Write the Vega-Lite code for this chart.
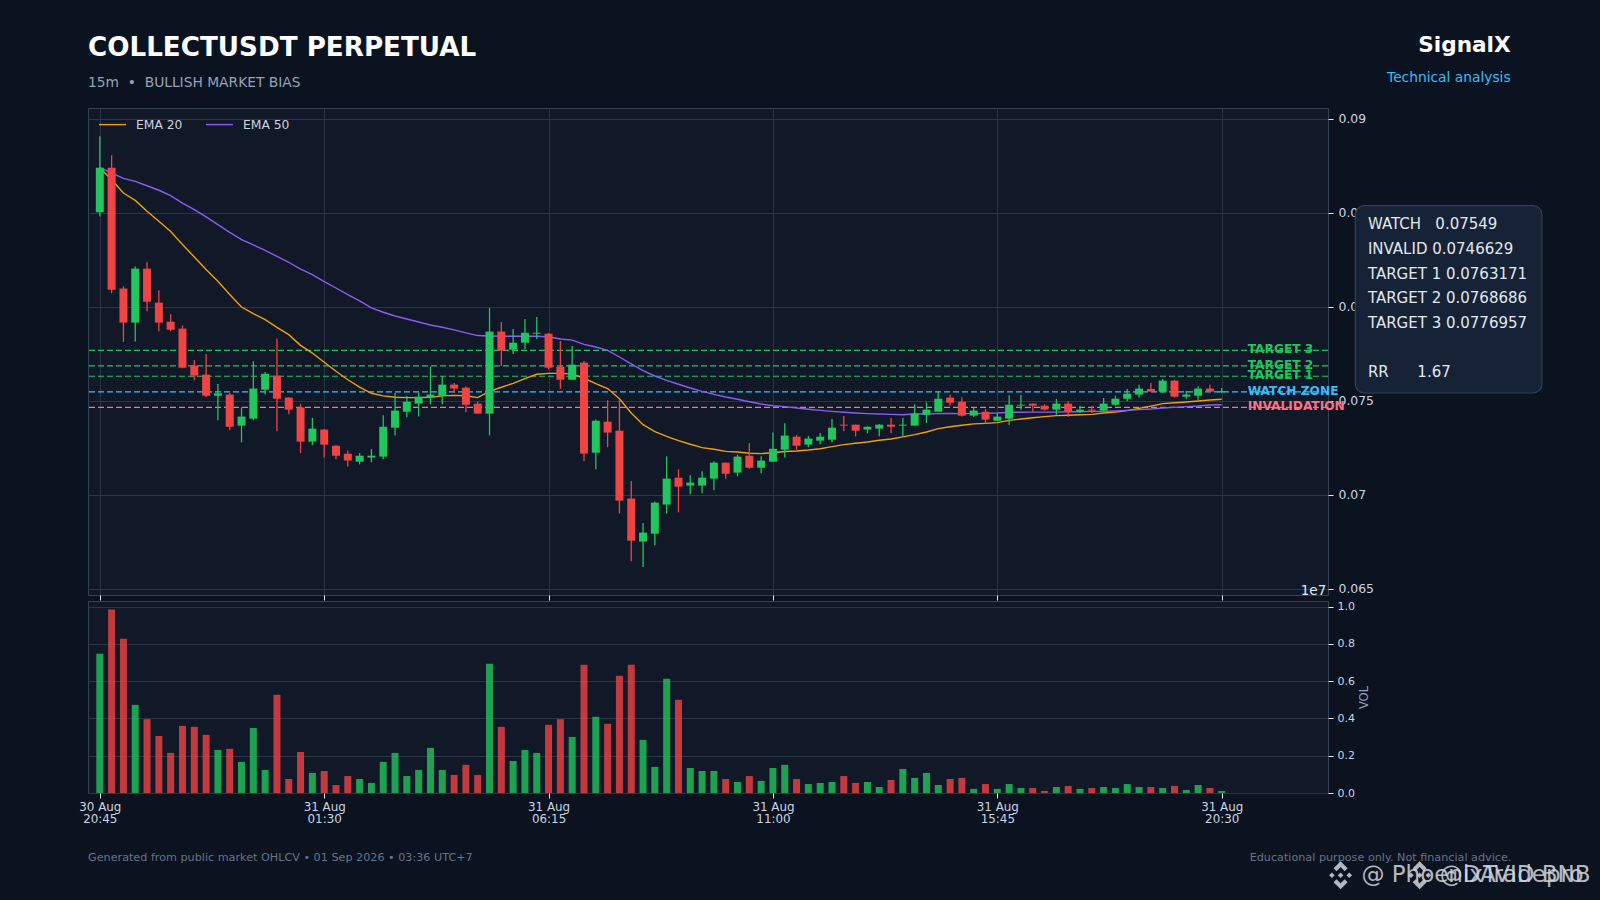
{
  "$schema": "https://vega.github.io/schema/vega-lite/v6.json",
  "background": "#0b1220",
  "padding": {"left": 78, "top": 34, "right": 12, "bottom": 14},
  "config": {
    "font": "DejaVu Sans",
    "view": {"fill": "#111827", "stroke": "#334155"},
    "axis": {"gridColor": "#2a3546", "gridOpacity": 1, "tickColor": "#e2e8f0", "labelColor": "#cbd5e1", "domain": false, "ticks": true}
  },
  "datasets": {
    "candles": [
      {"t":"2026-08-30T20:45:00Z","open":0.08504,"high":0.08908,"low":0.08482,"close":0.08741,"vol":0.747,"EMA 20":0.08741,"EMA 50":0.08741},
      {"t":"2026-08-30T21:00:00Z","open":0.08741,"high":0.08807,"low":0.08073,"close":0.08092,"vol":0.984,"EMA 20":0.08677,"EMA 50":0.08713},
      {"t":"2026-08-30T21:15:00Z","open":0.08098,"high":0.0811,"low":0.07814,"close":0.07917,"vol":0.828,"EMA 20":0.08606,"EMA 50":0.08684},
      {"t":"2026-08-30T21:30:00Z","open":0.07917,"high":0.08216,"low":0.07817,"close":0.08204,"vol":0.473,"EMA 20":0.08567,"EMA 50":0.08668},
      {"t":"2026-08-30T21:45:00Z","open":0.08204,"high":0.08238,"low":0.07977,"close":0.08028,"vol":0.396,"EMA 20":0.08509,"EMA 50":0.08645},
      {"t":"2026-08-30T22:00:00Z","open":0.08023,"high":0.08089,"low":0.07871,"close":0.07917,"vol":0.306,"EMA 20":0.08456,"EMA 50":0.08621},
      {"t":"2026-08-30T22:15:00Z","open":0.07922,"high":0.07961,"low":0.07871,"close":0.07879,"vol":0.215,"EMA 20":0.08402,"EMA 50":0.08592},
      {"t":"2026-08-30T22:30:00Z","open":0.07885,"high":0.07902,"low":0.07674,"close":0.07677,"vol":0.36,"EMA 20":0.08332,"EMA 50":0.08553},
      {"t":"2026-08-30T22:45:00Z","open":0.07688,"high":0.07718,"low":0.0761,"close":0.07635,"vol":0.355,"EMA 20":0.08266,"EMA 50":0.08518},
      {"t":"2026-08-30T23:00:00Z","open":0.0764,"high":0.0775,"low":0.07521,"close":0.07528,"vol":0.312,"EMA 20":0.08199,"EMA 50":0.08479},
      {"t":"2026-08-30T23:15:00Z","open":0.07528,"high":0.0759,"low":0.07397,"close":0.07541,"vol":0.231,"EMA 20":0.08137,"EMA 50":0.08438},
      {"t":"2026-08-30T23:30:00Z","open":0.07534,"high":0.07543,"low":0.07344,"close":0.07363,"vol":0.237,"EMA 20":0.08066,"EMA 50":0.08397},
      {"t":"2026-08-30T23:45:00Z","open":0.07369,"high":0.07466,"low":0.0728,"close":0.07417,"vol":0.167,"EMA 20":0.08,"EMA 50":0.08358},
      {"t":"2026-08-31T00:00:00Z","open":0.07406,"high":0.07711,"low":0.07397,"close":0.07566,"vol":0.349,"EMA 20":0.07965,"EMA 50":0.0833},
      {"t":"2026-08-31T00:15:00Z","open":0.0756,"high":0.07654,"low":0.07535,"close":0.07645,"vol":0.124,"EMA 20":0.07933,"EMA 50":0.08301},
      {"t":"2026-08-31T00:30:00Z","open":0.07635,"high":0.07833,"low":0.07339,"close":0.07512,"vol":0.527,"EMA 20":0.07892,"EMA 50":0.08269},
      {"t":"2026-08-31T00:45:00Z","open":0.07518,"high":0.0752,"low":0.07429,"close":0.07454,"vol":0.075,"EMA 20":0.07853,"EMA 50":0.08238},
      {"t":"2026-08-31T01:00:00Z","open":0.07466,"high":0.07484,"low":0.07223,"close":0.07284,"vol":0.22,"EMA 20":0.07796,"EMA 50":0.08202},
      {"t":"2026-08-31T01:15:00Z","open":0.07284,"high":0.0741,"low":0.07264,"close":0.07353,"vol":0.108,"EMA 20":0.07755,"EMA 50":0.08172},
      {"t":"2026-08-31T01:30:00Z","open":0.07348,"high":0.07351,"low":0.072,"close":0.07268,"vol":0.118,"EMA 20":0.07706,"EMA 50":0.08135},
      {"t":"2026-08-31T01:45:00Z","open":0.07262,"high":0.07264,"low":0.0719,"close":0.07209,"vol":0.043,"EMA 20":0.07658,"EMA 50":0.08101},
      {"t":"2026-08-31T02:00:00Z","open":0.0722,"high":0.07236,"low":0.07152,"close":0.07183,"vol":0.091,"EMA 20":0.07613,"EMA 50":0.08066},
      {"t":"2026-08-31T02:15:00Z","open":0.07177,"high":0.07223,"low":0.07163,"close":0.07209,"vol":0.075,"EMA 20":0.07574,"EMA 50":0.08032},
      {"t":"2026-08-31T02:30:00Z","open":0.07199,"high":0.07245,"low":0.07174,"close":0.07209,"vol":0.054,"EMA 20":0.07541,"EMA 50":0.07995},
      {"t":"2026-08-31T02:45:00Z","open":0.07204,"high":0.07424,"low":0.0719,"close":0.07363,"vol":0.167,"EMA 20":0.07527,"EMA 50":0.07972},
      {"t":"2026-08-31T03:00:00Z","open":0.07358,"high":0.07543,"low":0.07317,"close":0.07449,"vol":0.215,"EMA 20":0.0752,"EMA 50":0.07952},
      {"t":"2026-08-31T03:15:00Z","open":0.07443,"high":0.07527,"low":0.07413,"close":0.07496,"vol":0.091,"EMA 20":0.07518,"EMA 50":0.07936},
      {"t":"2026-08-31T03:30:00Z","open":0.07486,"high":0.07546,"low":0.07418,"close":0.07523,"vol":0.124,"EMA 20":0.07518,"EMA 50":0.0792},
      {"t":"2026-08-31T03:45:00Z","open":0.07518,"high":0.07683,"low":0.07482,"close":0.07534,"vol":0.242,"EMA 20":0.0752,"EMA 50":0.07904},
      {"t":"2026-08-31T04:00:00Z","open":0.07528,"high":0.07633,"low":0.07482,"close":0.07587,"vol":0.124,"EMA 20":0.07527,"EMA 50":0.07892},
      {"t":"2026-08-31T04:15:00Z","open":0.07587,"high":0.07596,"low":0.07543,"close":0.07566,"vol":0.097,"EMA 20":0.0753,"EMA 50":0.07878},
      {"t":"2026-08-31T04:30:00Z","open":0.07571,"high":0.07578,"low":0.0744,"close":0.0748,"vol":0.151,"EMA 20":0.07528,"EMA 50":0.07862},
      {"t":"2026-08-31T04:45:00Z","open":0.07486,"high":0.07498,"low":0.07433,"close":0.07433,"vol":0.097,"EMA 20":0.07518,"EMA 50":0.07848},
      {"t":"2026-08-31T05:00:00Z","open":0.07433,"high":0.07995,"low":0.07317,"close":0.07869,"vol":0.694,"EMA 20":0.07551,"EMA 50":0.07846},
      {"t":"2026-08-31T05:15:00Z","open":0.07869,"high":0.0792,"low":0.07688,"close":0.07768,"vol":0.355,"EMA 20":0.07573,"EMA 50":0.07844},
      {"t":"2026-08-31T05:30:00Z","open":0.07773,"high":0.07883,"low":0.0775,"close":0.0781,"vol":0.172,"EMA 20":0.07594,"EMA 50":0.07844},
      {"t":"2026-08-31T05:45:00Z","open":0.0781,"high":0.07936,"low":0.07777,"close":0.07863,"vol":0.231,"EMA 20":0.07619,"EMA 50":0.07844},
      {"t":"2026-08-31T06:00:00Z","open":0.07858,"high":0.07947,"low":0.0783,"close":0.07863,"vol":0.215,"EMA 20":0.07642,"EMA 50":0.07844},
      {"t":"2026-08-31T06:15:00Z","open":0.07858,"high":0.07862,"low":0.07668,"close":0.07677,"vol":0.366,"EMA 20":0.07647,"EMA 50":0.07842},
      {"t":"2026-08-31T06:30:00Z","open":0.07683,"high":0.07819,"low":0.07564,"close":0.07613,"vol":0.396,"EMA 20":0.07647,"EMA 50":0.0783},
      {"t":"2026-08-31T06:45:00Z","open":0.07613,"high":0.07793,"low":0.07613,"close":0.07693,"vol":0.301,"EMA 20":0.07644,"EMA 50":0.07824},
      {"t":"2026-08-31T07:00:00Z","open":0.07704,"high":0.07713,"low":0.07179,"close":0.0722,"vol":0.688,"EMA 20":0.07621,"EMA 50":0.07801},
      {"t":"2026-08-31T07:15:00Z","open":0.07225,"high":0.07402,"low":0.07137,"close":0.07395,"vol":0.409,"EMA 20":0.07592,"EMA 50":0.07787},
      {"t":"2026-08-31T07:30:00Z","open":0.0739,"high":0.07504,"low":0.07254,"close":0.07332,"vol":0.371,"EMA 20":0.07566,"EMA 50":0.07769},
      {"t":"2026-08-31T07:45:00Z","open":0.07342,"high":0.07504,"low":0.06902,"close":0.0697,"vol":0.629,"EMA 20":0.07512,"EMA 50":0.07734},
      {"t":"2026-08-31T08:00:00Z","open":0.06981,"high":0.07074,"low":0.06647,"close":0.06757,"vol":0.688,"EMA 20":0.07436,"EMA 50":0.07697},
      {"t":"2026-08-31T08:15:00Z","open":0.06752,"high":0.06851,"low":0.06617,"close":0.068,"vol":0.285,"EMA 20":0.07374,"EMA 50":0.07661},
      {"t":"2026-08-31T08:30:00Z","open":0.06794,"high":0.06965,"low":0.06732,"close":0.06959,"vol":0.14,"EMA 20":0.07337,"EMA 50":0.07633},
      {"t":"2026-08-31T08:45:00Z","open":0.06949,"high":0.07206,"low":0.06902,"close":0.07087,"vol":0.613,"EMA 20":0.07312,"EMA 50":0.0761},
      {"t":"2026-08-31T09:00:00Z","open":0.07092,"high":0.07137,"low":0.06908,"close":0.07044,"vol":0.5,"EMA 20":0.07289,"EMA 50":0.07589},
      {"t":"2026-08-31T09:15:00Z","open":0.0705,"high":0.07105,"low":0.07004,"close":0.07066,"vol":0.134,"EMA 20":0.0727,"EMA 50":0.07569},
      {"t":"2026-08-31T09:30:00Z","open":0.0705,"high":0.07126,"low":0.07009,"close":0.07092,"vol":0.118,"EMA 20":0.07252,"EMA 50":0.07551},
      {"t":"2026-08-31T09:45:00Z","open":0.07087,"high":0.07179,"low":0.07025,"close":0.07172,"vol":0.118,"EMA 20":0.07243,"EMA 50":0.07535},
      {"t":"2026-08-31T10:00:00Z","open":0.07172,"high":0.07172,"low":0.07087,"close":0.07113,"vol":0.075,"EMA 20":0.07232,"EMA 50":0.07521},
      {"t":"2026-08-31T10:15:00Z","open":0.07119,"high":0.07215,"low":0.07099,"close":0.07204,"vol":0.059,"EMA 20":0.07229,"EMA 50":0.07509},
      {"t":"2026-08-31T10:30:00Z","open":0.07209,"high":0.07277,"low":0.0714,"close":0.07145,"vol":0.091,"EMA 20":0.07222,"EMA 50":0.07496},
      {"t":"2026-08-31T10:45:00Z","open":0.07145,"high":0.07206,"low":0.07115,"close":0.07183,"vol":0.065,"EMA 20":0.0722,"EMA 50":0.07484},
      {"t":"2026-08-31T11:00:00Z","open":0.07177,"high":0.07333,"low":0.07177,"close":0.07246,"vol":0.134,"EMA 20":0.07225,"EMA 50":0.07475},
      {"t":"2026-08-31T11:15:00Z","open":0.07241,"high":0.07381,"low":0.072,"close":0.07316,"vol":0.151,"EMA 20":0.07231,"EMA 50":0.0747},
      {"t":"2026-08-31T11:30:00Z","open":0.0731,"high":0.07319,"low":0.07241,"close":0.07262,"vol":0.075,"EMA 20":0.07234,"EMA 50":0.07463},
      {"t":"2026-08-31T11:45:00Z","open":0.07268,"high":0.07314,"low":0.07254,"close":0.073,"vol":0.048,"EMA 20":0.07239,"EMA 50":0.07456},
      {"t":"2026-08-31T12:00:00Z","open":0.07289,"high":0.0733,"low":0.0727,"close":0.0731,"vol":0.054,"EMA 20":0.07246,"EMA 50":0.0745},
      {"t":"2026-08-31T12:15:00Z","open":0.07294,"high":0.07404,"low":0.0728,"close":0.07358,"vol":0.059,"EMA 20":0.07257,"EMA 50":0.07445},
      {"t":"2026-08-31T12:30:00Z","open":0.07374,"high":0.0742,"low":0.07339,"close":0.07369,"vol":0.091,"EMA 20":0.07268,"EMA 50":0.0744},
      {"t":"2026-08-31T12:45:00Z","open":0.07374,"high":0.07374,"low":0.07312,"close":0.07342,"vol":0.054,"EMA 20":0.07275,"EMA 50":0.07436},
      {"t":"2026-08-31T13:00:00Z","open":0.07348,"high":0.07365,"low":0.07328,"close":0.07363,"vol":0.059,"EMA 20":0.07282,"EMA 50":0.07433},
      {"t":"2026-08-31T13:15:00Z","open":0.07353,"high":0.07378,"low":0.07312,"close":0.07374,"vol":0.032,"EMA 20":0.07291,"EMA 50":0.07431},
      {"t":"2026-08-31T13:30:00Z","open":0.07374,"high":0.0741,"low":0.07328,"close":0.07363,"vol":0.07,"EMA 20":0.07298,"EMA 50":0.07429},
      {"t":"2026-08-31T13:45:00Z","open":0.07369,"high":0.0741,"low":0.07312,"close":0.07374,"vol":0.129,"EMA 20":0.07309,"EMA 50":0.07427},
      {"t":"2026-08-31T14:00:00Z","open":0.07369,"high":0.07482,"low":0.07369,"close":0.07433,"vol":0.081,"EMA 20":0.07321,"EMA 50":0.07431},
      {"t":"2026-08-31T14:15:00Z","open":0.07427,"high":0.07493,"low":0.07383,"close":0.07454,"vol":0.108,"EMA 20":0.07335,"EMA 50":0.07431},
      {"t":"2026-08-31T14:30:00Z","open":0.07443,"high":0.07551,"low":0.07443,"close":0.07512,"vol":0.043,"EMA 20":0.07353,"EMA 50":0.07433},
      {"t":"2026-08-31T14:45:00Z","open":0.07518,"high":0.07535,"low":0.07475,"close":0.07491,"vol":0.075,"EMA 20":0.07363,"EMA 50":0.07434},
      {"t":"2026-08-31T15:00:00Z","open":0.07496,"high":0.0752,"low":0.07417,"close":0.07422,"vol":0.081,"EMA 20":0.07371,"EMA 50":0.07433},
      {"t":"2026-08-31T15:15:00Z","open":0.07422,"high":0.07465,"low":0.07415,"close":0.07449,"vol":0.022,"EMA 20":0.07378,"EMA 50":0.07433},
      {"t":"2026-08-31T15:30:00Z","open":0.07443,"high":0.07457,"low":0.07379,"close":0.07401,"vol":0.048,"EMA 20":0.07381,"EMA 50":0.07434},
      {"t":"2026-08-31T15:45:00Z","open":0.07395,"high":0.07433,"low":0.07394,"close":0.07417,"vol":0.022,"EMA 20":0.07385,"EMA 50":0.07436},
      {"t":"2026-08-31T16:00:00Z","open":0.07406,"high":0.0753,"low":0.07372,"close":0.0748,"vol":0.048,"EMA 20":0.07397,"EMA 50":0.0744},
      {"t":"2026-08-31T16:15:00Z","open":0.07475,"high":0.07532,"low":0.07454,"close":0.0748,"vol":0.027,"EMA 20":0.07404,"EMA 50":0.0744},
      {"t":"2026-08-31T16:30:00Z","open":0.07486,"high":0.07486,"low":0.07443,"close":0.07475,"vol":0.027,"EMA 20":0.07411,"EMA 50":0.07441},
      {"t":"2026-08-31T16:45:00Z","open":0.07475,"high":0.07482,"low":0.07449,"close":0.07454,"vol":0.011,"EMA 20":0.07417,"EMA 50":0.07441},
      {"t":"2026-08-31T17:00:00Z","open":0.07454,"high":0.07511,"low":0.07427,"close":0.07486,"vol":0.032,"EMA 20":0.07422,"EMA 50":0.07441},
      {"t":"2026-08-31T17:15:00Z","open":0.07486,"high":0.07498,"low":0.07415,"close":0.07443,"vol":0.038,"EMA 20":0.07424,"EMA 50":0.07443},
      {"t":"2026-08-31T17:30:00Z","open":0.07443,"high":0.07475,"low":0.07436,"close":0.07454,"vol":0.022,"EMA 20":0.07427,"EMA 50":0.07443},
      {"t":"2026-08-31T17:45:00Z","open":0.07454,"high":0.07473,"low":0.07436,"close":0.07449,"vol":0.027,"EMA 20":0.07429,"EMA 50":0.07445},
      {"t":"2026-08-31T18:00:00Z","open":0.07449,"high":0.07516,"low":0.07445,"close":0.07486,"vol":0.032,"EMA 20":0.07436,"EMA 50":0.07445},
      {"t":"2026-08-31T18:15:00Z","open":0.0748,"high":0.07528,"low":0.07475,"close":0.07512,"vol":0.027,"EMA 20":0.07441,"EMA 50":0.07447},
      {"t":"2026-08-31T18:30:00Z","open":0.07512,"high":0.07564,"low":0.07498,"close":0.07539,"vol":0.048,"EMA 20":0.07449,"EMA 50":0.0745},
      {"t":"2026-08-31T18:45:00Z","open":0.07534,"high":0.07587,"low":0.07518,"close":0.07566,"vol":0.032,"EMA 20":0.07461,"EMA 50":0.07454},
      {"t":"2026-08-31T19:00:00Z","open":0.07564,"high":0.07596,"low":0.0755,"close":0.0755,"vol":0.032,"EMA 20":0.07473,"EMA 50":0.07457},
      {"t":"2026-08-31T19:15:00Z","open":0.0755,"high":0.07617,"low":0.07543,"close":0.07608,"vol":0.027,"EMA 20":0.07486,"EMA 50":0.07463},
      {"t":"2026-08-31T19:30:00Z","open":0.07608,"high":0.07613,"low":0.07518,"close":0.07523,"vol":0.038,"EMA 20":0.07491,"EMA 50":0.07466},
      {"t":"2026-08-31T19:45:00Z","open":0.07523,"high":0.07555,"low":0.07512,"close":0.07534,"vol":0.016,"EMA 20":0.07495,"EMA 50":0.0747},
      {"t":"2026-08-31T20:00:00Z","open":0.07528,"high":0.07578,"low":0.07507,"close":0.07566,"vol":0.043,"EMA 20":0.075,"EMA 50":0.07473},
      {"t":"2026-08-31T20:15:00Z","open":0.07566,"high":0.07587,"low":0.07546,"close":0.0755,"vol":0.027,"EMA 20":0.07505,"EMA 50":0.07479},
      {"t":"2026-08-31T20:30:00Z","open":0.07546,"high":0.07569,"low":0.07543,"close":0.07553,"vol":0.011,"EMA 20":0.07509,"EMA 50":0.0748}
    ],
    "levels": [
      {"name":"TARGET 3","kind":"target","price":0.0776957,"t":"2026-08-31T21:03:00Z"},
      {"name":"TARGET 2","kind":"target","price":0.0768686,"t":"2026-08-31T21:03:00Z"},
      {"name":"TARGET 1","kind":"target","price":0.0763171,"t":"2026-08-31T21:03:00Z"},
      {"name":"WATCH ZONE","kind":"watch","price":0.07549,"t":"2026-08-31T21:03:00Z"},
      {"name":"INVALIDATION","kind":"invalid","price":0.0746629,"t":"2026-08-31T21:03:00Z"}
    ],
    "infobox": [
      {"t":"2026-08-31T23:19:42Z","t2":"2026-09-01T03:16:48Z","top":0.085388,"bottom":0.075426}
    ],
    "infolines": [
      {"line":"WATCH\u00a0\u00a0\u00a00.07549","t":"2026-08-31T23:35:42Z","price":0.084431},
      {"line":"INVALID 0.0746629","t":"2026-08-31T23:35:42Z","price":0.083085},
      {"line":"TARGET 1 0.0763171","t":"2026-08-31T23:35:42Z","price":0.081771},
      {"line":"TARGET 2 0.0768686","t":"2026-08-31T23:35:42Z","price":0.080479},
      {"line":"TARGET 3 0.0776957","t":"2026-08-31T23:35:42Z","price":0.079149},
      {"line":"RR\u00a0\u00a0\u00a0\u00a0\u00a0\u00a01.67","t":"2026-08-31T23:35:42Z","price":0.076543}
    ]
  },
  "spacing": -3,
  "vconcat": [
    {
      "width": 1240,
      "height": 487,
      "title": {
        "text": "COLLECTUSDT PERPETUAL",
        "subtitle": "15m\u00a0\u00a0•\u00a0\u00a0BULLISH MARKET BIAS",
        "anchor": "start",
        "frame": "group",
        "font": "DejaVu Sans",
        "fontSize": 26.2,
        "fontWeight": "bold",
        "color": "#ffffff",
        "subtitleFont": "DejaVu Sans",
        "subtitleFontSize": 13.8,
        "subtitleColor": "#94a3b8",
        "subtitlePadding": 14,
        "offset": -54
      },
      "encoding": {
        "x": {
          "field": "t",
          "type": "temporal",
          "title": null,
          "scale": {"type": "utc", "domain": ["2026-08-30T20:30:00Z", "2026-08-31T22:45:00Z"], "nice": false, "padding": 0},
          "axis": {
            "values": ["2026-08-30T20:45:00Z", "2026-08-31T01:30:00Z", "2026-08-31T06:15:00Z", "2026-08-31T11:00:00Z", "2026-08-31T15:45:00Z", "2026-08-31T20:30:00Z"],
            "tickCount": 6,
            "labels": false,
            "grid": true,
            "tickSize": 5
          }
        }
      },
      "layer": [
        {
          "data": {"name": "levels"},
          "mark": {"type": "rule", "strokeDash": [6, 3], "strokeWidth": 1.2},
          "encoding": {
            "x": null,
            "y": {
              "field": "price",
              "type": "quantitative",
              "title": null,
              "scale": {"domain": [0.06468, 0.090585], "nice": false, "zero": false},
              "axis": {
                "orient": "right",
                "values": [0.065, 0.07, 0.075, 0.08, 0.085, 0.09],
                "tickCount": 6,
                "format": ".3~f",
                "grid": true,
                "tickSize": 5,
                "labelFontSize": 12.4,
                "labelPadding": 5
              }
            },
            "color": {
              "condition": [
                {"test": "datum.kind == 'target'", "value": "#22c55e"},
                {"test": "datum.kind == 'watch'", "value": "#38bdf8"}
              ],
              "value": "#fb7185"
            }
          }
        },
        {
          "data": {"name": "candles"},
          "transform": [{"fold": ["EMA 20", "EMA 50"], "as": ["ema", "value"]}],
          "mark": {"type": "line", "strokeWidth": 1.4},
          "encoding": {
            "y": {"field": "value", "type": "quantitative", "title": null, "scale": {"domain": [0.06468, 0.090585], "nice": false, "zero": false}},
            "color": {
              "field": "ema",
              "type": "nominal",
              "scale": {"domain": ["EMA 20", "EMA 50"], "range": ["#f59e0b", "#8b5cf6"]},
              "legend": {
                "title": null,
                "orient": "none",
                "legendX": 10,
                "legendY": 2,
                "direction": "horizontal",
                "symbolType": "stroke",
                "symbolSize": 729,
                "symbolStrokeWidth": 1.4,
                "labelColor": "#cbd5e1",
                "labelFontSize": 12.3,
                "labelOffset": 9,
                "columnPadding": 20
              }
            }
          }
        },
        {
          "data": {"name": "candles"},
          "mark": {"type": "rule", "strokeWidth": 1.3},
          "encoding": {
            "y": {"field": "low", "type": "quantitative", "title": null, "scale": {"domain": [0.06468, 0.090585], "nice": false, "zero": false}},
            "y2": {"field": "high"},
            "color": {"condition": {"test": "datum.close >= datum.open", "value": "#22c55e"}, "value": "#ef4444"}
          }
        },
        {
          "data": {"name": "candles"},
          "mark": {"type": "bar", "width": 8},
          "encoding": {
            "y": {"field": "open", "type": "quantitative", "title": null, "scale": {"domain": [0.06468, 0.090585], "nice": false, "zero": false}},
            "y2": {"field": "close"},
            "color": {"condition": {"test": "datum.close >= datum.open", "value": "#22c55e"}, "value": "#ef4444"}
          }
        },
        {
          "data": {"name": "levels"},
          "mark": {"type": "text", "align": "left", "baseline": "middle", "dy": -1, "fontSize": 12.2, "fontWeight": "bold"},
          "encoding": {
            "y": {"field": "price", "type": "quantitative", "title": null, "scale": {"domain": [0.06468, 0.090585], "nice": false, "zero": false}},
            "text": {"field": "name"},
            "color": {
              "condition": [
                {"test": "datum.kind == 'target'", "value": "#22c55e"},
                {"test": "datum.kind == 'watch'", "value": "#38bdf8"}
              ],
              "value": "#fb7185"
            }
          }
        },
        {
          "data": {"name": "infobox"},
          "mark": {"type": "rect", "fill": "#162235", "stroke": "#334155", "strokeWidth": 1.2, "cornerRadius": 9},
          "encoding": {
            "x2": {"field": "t2"},
            "y": {"field": "top", "type": "quantitative", "title": null, "scale": {"domain": [0.06468, 0.090585], "nice": false, "zero": false}},
            "y2": {"field": "bottom"}
          }
        },
        {
          "data": {"name": "infolines"},
          "mark": {"type": "text", "align": "left", "baseline": "middle", "fontSize": 15, "color": "#e2e8f0"},
          "encoding": {
            "y": {"field": "price", "type": "quantitative", "title": null, "scale": {"domain": [0.06468, 0.090585], "nice": false, "zero": false}},
            "text": {"field": "line"}
          }
        },
        {
          "data": {"values": [{"label": "SignalX", "t": "2026-09-01T02:37:00Z", "price": 0.093862}]},
          "mark": {"type": "text", "align": "right", "baseline": "middle", "fontSize": 21.6, "fontWeight": "bold", "color": "#ffffff"},
          "encoding": {
            "y": {"field": "price", "type": "quantitative", "title": null, "scale": {"domain": [0.06468, 0.090585], "nice": false, "zero": false}},
            "text": {"field": "label"}
          }
        },
        {
          "data": {"values": [{"label": "Technical analysis", "t": "2026-09-01T02:37:00Z", "price": 0.092197}]},
          "mark": {"type": "text", "align": "right", "baseline": "middle", "fontSize": 13.8, "color": "#38bdf8"},
          "encoding": {
            "y": {"field": "price", "type": "quantitative", "title": null, "scale": {"domain": [0.06468, 0.090585], "nice": false, "zero": false}},
            "text": {"field": "label"}
          }
        },
        {
          "data": {"values": [{"label": "1e7", "t": "2026-08-31T22:42:48Z", "price": 0.06491}]},
          "mark": {"type": "text", "align": "right", "baseline": "middle", "fontSize": 13.5, "color": "#e2e8f0"},
          "encoding": {
            "y": {"field": "price", "type": "quantitative", "title": null, "scale": {"domain": [0.06468, 0.090585], "nice": false, "zero": false}},
            "text": {"field": "label"}
          }
        }
      ]
    },
    {
      "width": 1240,
      "height": 192,
      "encoding": {
        "x": {
          "field": "t",
          "type": "temporal",
          "title": null,
          "scale": {"type": "utc", "domain": ["2026-08-30T20:30:00Z", "2026-08-31T22:45:00Z"], "nice": false, "padding": 0},
          "axis": {
            "values": ["2026-08-30T20:45:00Z", "2026-08-31T01:30:00Z", "2026-08-31T06:15:00Z", "2026-08-31T11:00:00Z", "2026-08-31T15:45:00Z", "2026-08-31T20:30:00Z"],
            "tickCount": 6,
            "labelExpr": "[utcFormat(datum.value, '%d %b'), utcFormat(datum.value, '%H:%M')]",
            "labelFontSize": 11.9,
            "labelLineHeight": 12.2,
            "labelFlush": false,
            "grid": false,
            "tickSize": 5,
            "labelPadding": 3
          }
        }
      },
      "layer": [
        {
          "data": {"name": "candles"},
          "mark": {"type": "bar", "width": 7, "opacity": 0.8},
          "encoding": {
            "y": {
              "field": "vol",
              "type": "quantitative",
              "scale": {"domain": [0, 1.03], "nice": false},
              "axis": {
                "orient": "right",
                "title": "VOL",
                "titleAngle": 270,
                "titleColor": "#94a3b8",
                "titleFontSize": 11.5,
                "titleFontWeight": "normal",
                "titlePadding": 15,
                "values": [0, 0.2, 0.4, 0.6, 0.8, 1],
                "tickCount": 6,
                "format": ".1f",
                "grid": true,
                "tickSize": 5,
                "labelFontSize": 11,
                "labelPadding": 4
              }
            },
            "color": {"condition": {"test": "datum.close >= datum.open", "value": "#22c55e"}, "value": "#ef4444"}
          }
        },
        {
          "data": {"values": [
            {"label": "Generated from public market OHLCV • 01 Sep 2026 • 03:36 UTC+7", "t": "2026-08-30T20:30:00Z", "vol": -0.3468}
          ]},
          "mark": {"type": "text", "align": "left", "baseline": "middle", "fontSize": 11.2, "color": "#64748b"},
          "encoding": {
            "y": {"field": "vol", "type": "quantitative", "scale": {"domain": [0, 1.03], "nice": false}},
            "text": {"field": "label"}
          }
        },
        {
          "data": {"values": [
            {"label": "Educational purpose only. Not financial advice.", "t": "2026-09-01T02:37:54Z", "vol": -0.3468}
          ]},
          "mark": {"type": "text", "align": "right", "baseline": "middle", "fontSize": 11.2, "color": "#64748b"},
          "encoding": {
            "y": {"field": "vol", "type": "quantitative", "scale": {"domain": [0, 1.03], "nice": false}},
            "text": {"field": "label"}
          }
        },
        {
          "data": {"values": [
            {"label": "@ PhoenixTradepro", "t": "2026-08-31T23:27:24Z", "vol": -0.4409},
            {"label": "@DAVID BNB", "t": "2026-09-01T01:06:48Z", "vol": -0.4409}
          ]},
          "mark": {"type": "text", "align": "left", "baseline": "middle", "fontSize": 23, "color": "#d1d5db", "opacity": 0.85},
          "encoding": {
            "y": {"field": "vol", "type": "quantitative", "scale": {"domain": [0, 1.03], "nice": false}},
            "text": {"field": "label"}
          }
        },
        {
          "data": {"values": [
            {"t": "2026-08-31T23:01:00Z", "vol": -0.4409},
            {"t": "2026-09-01T00:41:24Z", "vol": -0.4409}
          ]},
          "mark": {
            "type": "point",
            "filled": true,
            "size": 784,
            "opacity": 0.85,
            "color": "#d1d5db",
            "shape": "M0 -0.2L0.2 0L0 0.2L-0.2 0ZM-0.62 -0.2L-0.42 0L-0.62 0.2L-0.82 0ZM0.62 -0.2L0.82 0L0.62 0.2L0.42 0ZM0 -1L0.5 -0.5L0.29 -0.29L0 -0.58L-0.29 -0.29L-0.5 -0.5ZM0 1L-0.5 0.5L-0.29 0.29L0 0.58L0.29 0.29L0.5 0.5Z"
          },
          "encoding": {
            "y": {"field": "vol", "type": "quantitative", "scale": {"domain": [0, 1.03], "nice": false}}
          }
        }
      ]
    }
  ]
}
